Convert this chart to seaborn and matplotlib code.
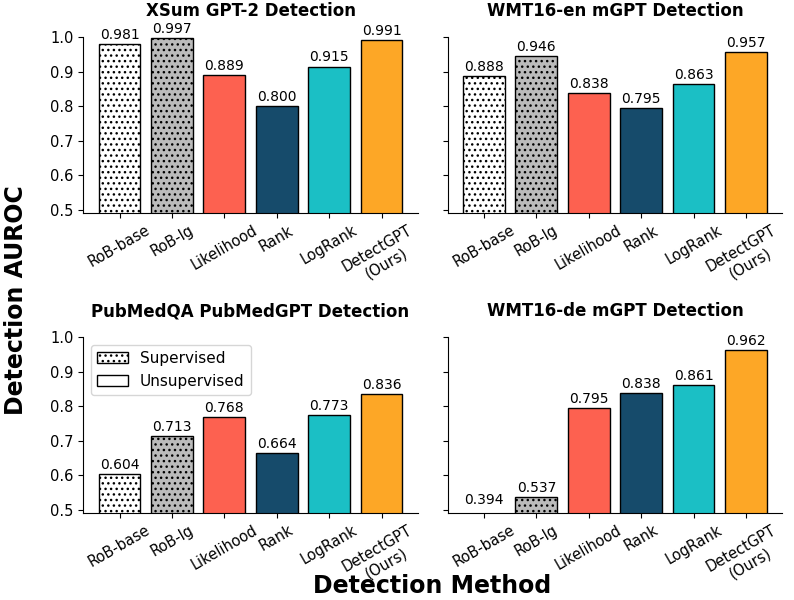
import numpy as np
import pandas as pd
import matplotlib
matplotlib.use("Agg")
import matplotlib.pyplot as plt
import seaborn as sns
from matplotlib.patches import Patch

methods = ["RoB-base", "RoB-lg", "Likelihood", "Rank", "LogRank", "DetectGPT\n(Ours)"]
titles = ["XSum GPT-2 Detection", "WMT16-en mGPT Detection",
          "PubMedQA PubMedGPT Detection", "WMT16-de mGPT Detection"]
xsum = [0.981, 0.997, 0.889, 0.800, 0.915, 0.991]
wmt_en = [0.888, 0.946, 0.838, 0.795, 0.863, 0.957]
pubmed = [0.604, 0.713, 0.768, 0.664, 0.773, 0.836]
wmt_de = [0.394, 0.537, 0.795, 0.838, 0.861, 0.962]

colors = ["#ffffff", "#bbbbbb", "#fd6150", "#164b6b", "#1bbfc5", "#fda726"]
hatches = ["...", "...", "", "", "", ""]
ylo, yhi = 0.49, 1.0

sns.set_style("ticks", rc={"text.color": "black", "axes.labelcolor": "black",
                           "xtick.color": "black", "ytick.color": "black",
                           "axes.edgecolor": "black"})
plt.rcParams["font.family"] = ["DejaVu Sans"]
plt.rcParams["hatch.linewidth"] = 1.0

fig, axes = plt.subplots(2, 2, figsize=(7.94, 6.0), dpi=100, sharey=True)
fig.subplots_adjust(left=0.105, right=0.985, top=0.938, bottom=0.145,
                    hspace=0.706, wspace=0.09)

for ax, title, vals in zip(axes.flat, titles, [xsum, wmt_en, pubmed, wmt_de]):
    df = pd.DataFrame({"method": methods, "auroc": vals})
    sns.barplot(data=df, x="method", y="auroc", hue="method", palette=colors,
                order=methods, hue_order=methods, legend=False, ax=ax,
                edgecolor="black", linewidth=1.0, width=0.8, saturation=1)
    for bar, h in zip(ax.patches, hatches):
        bar.set_hatch(h)
    for i, v in enumerate(vals):
        ax.text(i, max(v, 0.5) + 0.006, f"{v:.3f}", ha="center", va="bottom",
                fontsize=10, clip_on=False)
    ax.set_ylim(ylo, yhi)
    ax.set_xlim(-0.69, 5.69)
    ax.set_yticks([0.5, 0.6, 0.7, 0.8, 0.9, 1.0])
    ax.set_title(title, fontsize=12, fontweight="bold", pad=15)
    ax.set_xlabel("")
    ax.set_ylabel("")
    ax.tick_params(axis="x", labelsize=10.5, rotation=30)
    ax.tick_params(axis="y", labelsize=10.5)
    sns.despine(ax=ax)

handles = [Patch(facecolor="white", edgecolor="black", hatch="...", label="Supervised"),
           Patch(facecolor="white", edgecolor="black", label="Unsupervised")]
axes[1, 0].legend(handles=handles, loc="upper left", fontsize=11)

fig.text(0.02, 0.5, "Detection AUROC", rotation=90, ha="center", va="center",
         fontsize=17, fontweight="bold")
fig.text(0.544, 0.003, "Detection Method", ha="center", va="bottom",
         fontsize=17, fontweight="bold")

fig.savefig("out.png", dpi=100)
